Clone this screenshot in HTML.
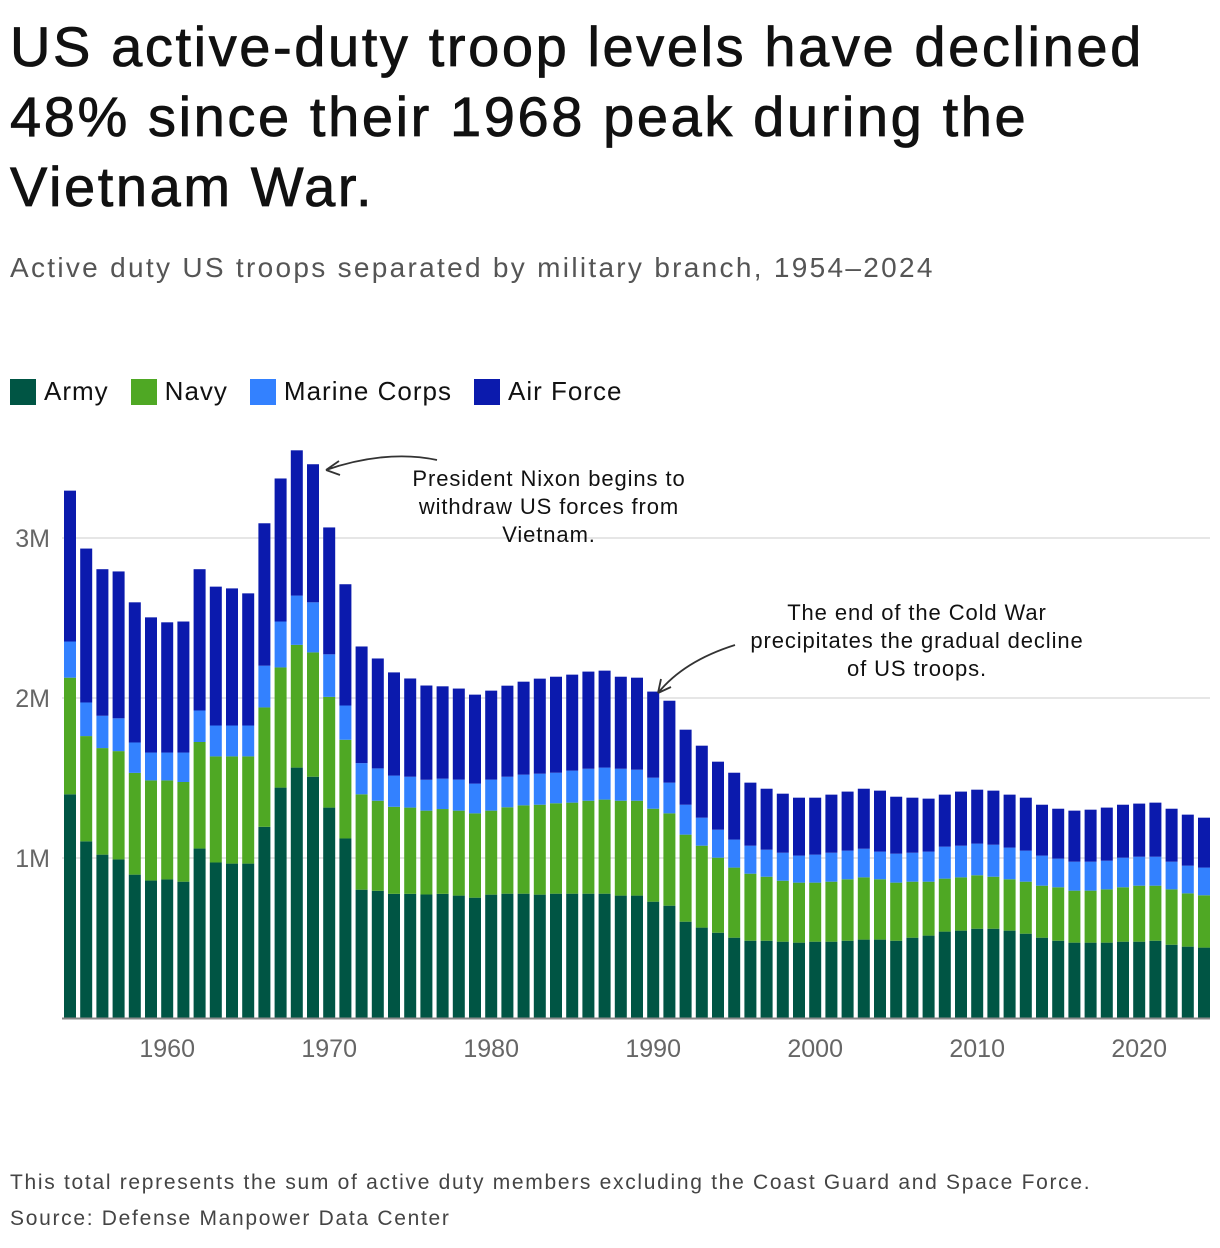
<!DOCTYPE html>
<html><head><meta charset="utf-8"><style>
body{margin:0;background:#fff;font-family:"Liberation Sans",sans-serif;}
#wrap{position:relative;width:1220px;height:1248px;overflow:hidden;}
h1{position:absolute;left:10px;top:12px;margin:0;font-size:56px;line-height:70px;font-weight:normal;letter-spacing:2.6px;color:#111;width:1210px;white-space:nowrap;-webkit-text-stroke:0.8px #111;}
.sub{position:absolute;left:10px;top:252px;font-size:28px;letter-spacing:2.3px;color:#555;white-space:nowrap;}
.legend{position:absolute;left:10px;top:376px;display:flex;font-size:26px;letter-spacing:1px;color:#111;}
.li{display:flex;align-items:center;margin-right:22px;}
.sw{width:26px;height:26px;margin-right:8px;}
.foot{position:absolute;left:10px;font-size:21px;letter-spacing:1.7px;color:#444;white-space:nowrap;}
</style></head><body>
<div id="wrap">
<h1>US active-duty troop levels have declined<br>48% since their 1968 peak during the<br>Vietnam War.</h1>
<div class="sub">Active duty US troops separated by military branch, 1954–2024</div>
<div class="legend">
<div class="li"><div class="sw" style="background:#005544"></div>Army</div>
<div class="li"><div class="sw" style="background:#4fa824"></div>Navy</div>
<div class="li"><div class="sw" style="background:#3381ff"></div>Marine Corps</div>
<div class="li"><div class="sw" style="background:#0b1aad"></div>Air Force</div>
</div>
<svg id="chart" width="1220" height="1248" style="position:absolute;left:0;top:0"></svg>
<div class="foot" style="top:1171px">This total represents the sum of active duty members excluding the Coast Guard and Space Force.</div>
<div class="foot" style="top:1207px">Source: Defense Manpower Data Center</div>
</div>
<script>
const years=[];for(let y=1954;y<=2024;y++)years.push(y);
const army=[1398,1104,1021,991,896,859,866,852,1059,972,965,965,1195,1440,1565,1508,1315,1122,802,795,776,776,772,776,765,752,771,777,777,771,777,777,777,777,765,765,727,702,602,565,533,502,483,483,477,471,477,477,483,490,490,483,502,515,540,546,558,558,546,527,502,483,471,471,471,477,477,483,458,446,440];
const navy=[729,658,666,677,636,626,619,623,666,663,670,670,746,751,767,777,692,617,596,563,544,539,524,530,531,527,525,540,552,562,565,569,581,588,593,593,581,577,544,512,469,438,419,400,381,375,369,375,384,389,377,363,350,337,331,333,334,325,321,325,325,334,325,325,333,340,350,344,346,333,327];
const marines=[226,210,202,205,190,174,174,184,197,193,193,193,261,287,308,313,266,214,195,202,195,193,193,190,194,186,194,191,192,194,191,200,200,200,200,194,194,192,187,175,175,175,175,169,175,169,175,181,179,179,173,181,181,188,200,198,198,200,198,194,188,179,181,181,179,185,181,181,173,173,173];
const airforce=[943,962,916,918,876,845,814,819,883,868,857,826,890,894,908,863,793,758,729,687,645,614,589,577,569,556,556,569,581,594,600,600,607,606,575,575,538,512,469,450,425,418,394,381,369,362,356,363,369,375,381,356,344,331,325,338,337,338,331,331,318,312,319,325,332,331,332,338,331,319,312];
const yTicks=[1000,2000,3000];
const yTickLabels=["1M","2M","3M"];
const xTicks=[1960,1970,1980,1990,2000,2010,2020];

const NS="http://www.w3.org/2000/svg";
const svg=document.getElementById('chart');
const x=yr=>70+(yr-1954)*16.2;
const y=v=>1018-v*0.16;
function mk(tag,attrs){const e=document.createElementNS(NS,tag);for(const k in attrs)e.setAttribute(k,attrs[k]);svg.appendChild(e);return e;}
yTicks.forEach((t,i)=>{
  const g=mk('line',{x1:62,x2:1210,y1:y(t),y2:y(t),stroke:'#ddd','stroke-width':1.5});
  
  
  const l=mk('text',{x:50,y:y(t)+9,'text-anchor':'end','font-size':25,fill:'#666','font-family':'Liberation Sans, sans-serif'});
  l.textContent=yTickLabels[i];
  
  
});
const series=[[army,'#005544','army'],[navy,'#4fa824','navy'],[marines,'#3381ff','marine-corps'],[airforce,'#0b1aad','air-force']];
years.forEach((yr,i)=>{
  let cum=0;
  series.forEach(([arr,col,nm])=>{
    const v=arr[i];
    const r=mk('rect',{x:x(yr)-6,width:12,y:y(cum+v),height:v*0.16,fill:col});
    
    
    cum+=v;
  });
});
const ax=mk('line',{x1:62,x2:1210,y1:1018.5,y2:1018.5,stroke:'#888','stroke-width':2});


xTicks.forEach(t=>{
  const l=mk('text',{x:x(t),y:1057,'text-anchor':'middle','font-size':25,fill:'#666','font-family':'Liberation Sans, sans-serif'});
  l.textContent=t;
  
  
});
function note(lines,cx,top,name){
  lines.forEach((s,i)=>{
    const t=mk('text',{x:cx,y:top+i*28,'text-anchor':'middle','font-size':22,'letter-spacing':0.9,fill:'#111','font-family':'Liberation Sans, sans-serif'});
    t.textContent=s;
    
    
  });
}
note(["President Nixon begins to","withdraw US forces from","Vietnam."],549,486,'annotation-nixon');
note(["The end of the Cold War","precipitates the gradual decline","of US troops."],917,620,'annotation-cold-war');
const a1=mk('path',{d:'M437,460 C400,452 360,458 326,470 M326,470 L339,461 M326,470 L340,475',fill:'none',stroke:'#333','stroke-width':1.8});


const a2=mk('path',{d:'M735,645 C700,656 675,672 658,693 M658,693 L661,679 M658,693 L671,687',fill:'none',stroke:'#333','stroke-width':1.8});


</script>
</body></html>
